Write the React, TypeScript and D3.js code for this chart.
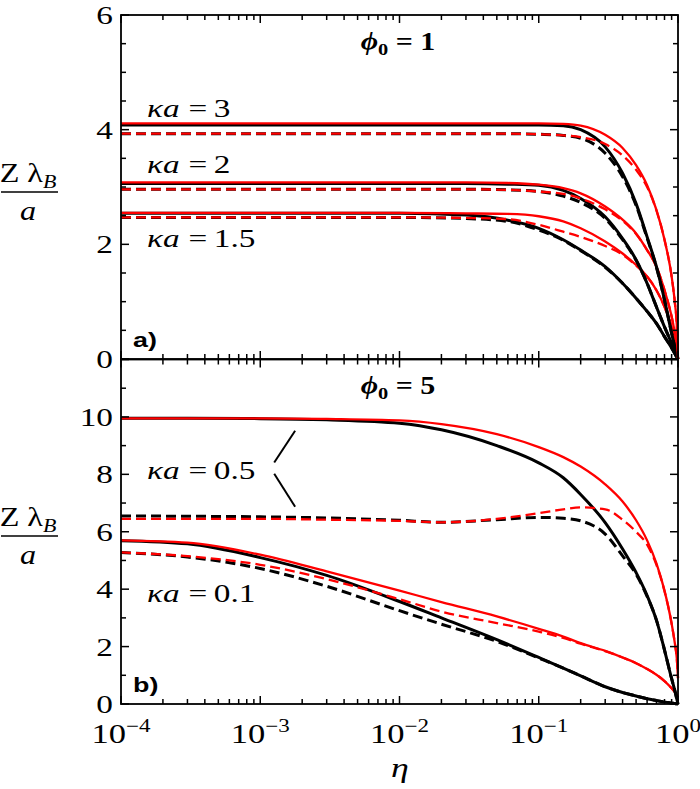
import React, { useEffect, useRef } from 'react';
import * as d3 from 'd3';

// panel a) phi0 = 1 : eta grid and Z lambda_B / a values
const etaA = [1e-4, 1e-3, 1e-2, 0.03, 0.06, 0.1, 0.15, 0.2, 0.3, 0.4, 0.5, 0.6, 0.7, 0.8, 0.9, 0.95, 0.98, 1];
const a3Black = [4.08, 4.08, 4.08, 4.08, 4.08, 4.08, 4.07, 4.0, 3.7, 3.24, 2.71, 2.13, 1.61, 1.03, 0.45, 0.2, 0.07, 0];
const a3BlackDash = [3.93, 3.93, 3.93, 3.93, 3.93, 3.92, 3.9, 3.85, 3.59, 3.18, 2.68, 2.11, 1.6, 1.03, 0.45, 0.2, 0.07, 0];
const a3Red = [4.11, 4.11, 4.11, 4.11, 4.11, 4.11, 4.1, 4.07, 3.91, 3.68, 3.38, 3.03, 2.6, 2.08, 1.44, 0.98, 0.6, 0];
const a3RedDash = [3.93, 3.93, 3.93, 3.93, 3.93, 3.92, 3.9, 3.87, 3.75, 3.55, 3.3, 3.0, 2.59, 2.08, 1.44, 0.98, 0.6, 0];
const a2Black = [3.06, 3.06, 3.06, 3.06, 3.05, 3.03, 2.94, 2.8, 2.48, 2.1, 1.73, 1.32, 0.91, 0.56, 0.27, 0.13, 0.05, 0];
const a2BlackDash = [2.96, 2.96, 2.96, 2.96, 2.95, 2.92, 2.84, 2.73, 2.45, 2.08, 1.72, 1.32, 0.91, 0.56, 0.27, 0.13, 0.05, 0];
const a2Red = [3.08, 3.08, 3.08, 3.08, 3.07, 3.04, 2.98, 2.89, 2.66, 2.43, 2.19, 1.9, 1.61, 1.2, 0.74, 0.45, 0.25, 0];
const a2RedDash = [2.96, 2.96, 2.96, 2.96, 2.95, 2.92, 2.88, 2.8, 2.61, 2.41, 2.18, 1.9, 1.61, 1.2, 0.74, 0.45, 0.25, 0];
const a15Black = [2.54, 2.54, 2.54, 2.51, 2.42, 2.28, 2.08, 1.9, 1.61, 1.32, 1.06, 0.83, 0.62, 0.39, 0.19, 0.09, 0.03, 0];
const a15BlackDash = [2.47, 2.47, 2.47, 2.45, 2.4, 2.25, 2.07, 1.89, 1.6, 1.32, 1.06, 0.83, 0.62, 0.39, 0.19, 0.09, 0.03, 0];
const a15Red = [2.55, 2.55, 2.55, 2.54, 2.53, 2.49, 2.4, 2.28, 2.05, 1.84, 1.64, 1.44, 1.2, 0.91, 0.56, 0.35, 0.18, 0];
const a15RedDash = [2.47, 2.47, 2.47, 2.46, 2.44, 2.34, 2.22, 2.13, 1.97, 1.82, 1.63, 1.44, 1.2, 0.91, 0.56, 0.35, 0.18, 0];

// panel b) phi0 = 5
const etaB = [1e-4, 3e-4, 1e-3, 3e-3, 0.01, 0.02, 0.05, 0.1, 0.15, 0.2, 0.3, 0.4, 0.5, 0.6, 0.7, 0.8, 0.9, 0.95, 0.98, 1];
const b05Black = [9.95, 9.95, 9.94, 9.9, 9.78, 9.55, 9.0, 8.4, 7.88, 7.3, 6.32, 5.4, 4.58, 3.78, 2.92, 1.88, 0.88, 0.46, 0.18, 0];
const b05BlackDash = [6.55, 6.54, 6.52, 6.48, 6.4, 6.33, 6.42, 6.5, 6.47, 6.38, 5.92, 5.16, 4.52, 3.75, 2.92, 1.88, 0.88, 0.46, 0.18, 0];
const b05Red = [9.95, 9.95, 9.95, 9.93, 9.88, 9.75, 9.4, 8.95, 8.6, 8.27, 7.65, 7.05, 6.4, 5.7, 4.9, 3.95, 2.8, 2.1, 1.6, 0.9];
const b05RedDash = [6.45, 6.45, 6.45, 6.42, 6.38, 6.33, 6.45, 6.65, 6.78, 6.85, 6.78, 6.42, 6.0, 5.55, 4.85, 3.93, 2.8, 2.1, 1.6, 0.9];
const b01Black = [5.69, 5.58, 5.1, 4.48, 3.57, 3.0, 2.24, 1.62, 1.25, 0.98, 0.6, 0.4, 0.28, 0.18, 0.12, 0.07, 0.03, 0.015, 0.005, 0];
const b01BlackDash = [5.28, 5.12, 4.72, 4.1, 3.25, 2.78, 2.18, 1.6, 1.25, 0.98, 0.6, 0.4, 0.28, 0.18, 0.12, 0.07, 0.03, 0.015, 0.005, 0];
const b01Red = [5.7, 5.62, 5.2, 4.62, 3.95, 3.55, 3.05, 2.62, 2.35, 2.12, 1.85, 1.62, 1.42, 1.22, 1.02, 0.8, 0.55, 0.42, 0.33, 0.25];
const b01RedDash = [5.28, 5.15, 4.85, 4.35, 3.65, 3.22, 2.82, 2.52, 2.3, 2.1, 1.84, 1.62, 1.42, 1.22, 1.02, 0.8, 0.55, 0.42, 0.33, 0.25];

// tick labels
const yLabelsA = [0, 2, 4, 6];
const yLabelsB = [0, 2, 4, 6, 8, 10];
const xExponents = [-4, -3, -2, -1, 0];

// pointer lines for the kappa a = 0.5 label (eta, value)
const pointerUp: [number, number][] = [[1.78e-3, 9.52], [1.26e-3, 8.41]];
const pointerDown: [number, number][] = [[1.26e-3, 8.02], [1.78e-3, 6.87]];

const RED = '#ff0000';
const SERIF = '"Liberation Serif", "Times New Roman", serif';
const SX = 1.28;

const App: React.FC = () => {
  const chartRef = useRef<SVGSVGElement | null>(null);

  useEffect(() => {
    if (!chartRef.current) return;
    const svg = d3.select(chartRef.current);
    svg.selectAll('*').remove();

    const left = 121;
    const right = 678;
    const x = d3.scaleLog().domain([1e-4, 1]).range([left, right]);
    const yA = d3.scaleLinear().domain([0, 6]).range([359, 15]);
    const yB = d3.scaleLinear().domain([0, 12]).range([704, 359.5]);

    // curves
    const drawCurves = (
      y: d3.ScaleLinear<number, number>,
      eta: number[],
      groups: { vals: number[]; color: string; dashed: boolean }[]
    ) => {
      const line = d3.line<[number, number]>()
        .x((d) => x(d[0]))
        .y((d) => y(d[1]))
        .curve(d3.curveMonotoneX);
      groups.forEach((s) => {
        svg.append('path')
          .datum(eta.map((e, i) => [e, s.vals[i]] as [number, number]))
          .attr('fill', 'none')
          .attr('stroke', s.color)
          .attr('stroke-width', s.color === RED ? 2.3 : 3)
          .attr('stroke-dasharray', s.dashed ? '10,5' : null)
          .attr('d', line);
      });
    };

    const set = (k: number[], kd: number[], r: number[], rd: number[]) => [
      { vals: k, color: '#000', dashed: false },
      { vals: kd, color: '#000', dashed: true },
      { vals: r, color: RED, dashed: false },
      { vals: rd, color: RED, dashed: true },
    ];

    drawCurves(yA, etaA, [
      ...set(a15Black, a15BlackDash, a15Red, a15RedDash),
      ...set(a2Black, a2BlackDash, a2Red, a2RedDash),
      ...set(a3Black, a3BlackDash, a3Red, a3RedDash),
    ]);
    drawCurves(yB, etaB, [
      ...set(b01Black, b01BlackDash, b01Red, b01RedDash),
      ...set(b05Black, b05BlackDash, b05Red, b05RedDash),
    ]);

    // frames and ticks
    const frame = (y: d3.ScaleLinear<number, number>, minorStep: number, majorStep: number) => {
      const g = svg.append('g').attr('stroke', '#000').attr('stroke-width', 1.5);
      const [v0, v1] = y.domain();
      d3.range(v0, v1 + 1e-9, minorStep).forEach((v) => {
        const major = Math.abs(v / majorStep - Math.round(v / majorStep)) < 1e-6;
        const len = major ? 8 : 5;
        g.append('line').attr('x1', left).attr('x2', left + len).attr('y1', y(v)).attr('y2', y(v));
        g.append('line').attr('x1', right).attr('x2', right - len).attr('y1', y(v)).attr('y2', y(v));
      });
      const yTop = y(v1);
      const yBot = y(v0);
      x.ticks().forEach((t) => {
        const lg = Math.log10(t);
        const len = Math.abs(lg - Math.round(lg)) < 1e-6 ? 8 : 5;
        g.append('line').attr('x1', x(t)).attr('x2', x(t)).attr('y1', yTop).attr('y2', yTop + len);
        g.append('line').attr('x1', x(t)).attr('x2', x(t)).attr('y1', yBot).attr('y2', yBot - len);
      });
      g.append('rect')
        .attr('x', left).attr('y', yTop)
        .attr('width', right - left).attr('height', yBot - yTop)
        .attr('fill', 'none').attr('stroke-width', 1.8);
    };
    frame(yA, 0.5, 2);
    frame(yB, 1, 2);

    // y tick labels
    const yLab = (y: d3.ScaleLinear<number, number>, vals: number[]) => {
      vals.forEach((v) => {
        svg.append('text')
          .attr('transform', `translate(113,${y(v) + 9}) scale(${SX},1)`)
          .attr('text-anchor', 'end')
          .attr('font-family', SERIF)
          .attr('font-size', 26)
          .text(String(v));
      });
    };
    yLab(yA, yLabelsA);
    yLab(yB, yLabelsB);

    // x tick labels
    xExponents.forEach((p) => {
      const t = svg.append('text')
        .attr('transform', `translate(${x(Math.pow(10, p))},743) scale(${SX},1)`)
        .attr('text-anchor', 'middle')
        .attr('font-family', SERIF)
        .attr('font-size', 27);
      t.append('tspan').text('10');
      t.append('tspan').attr('font-size', 18).attr('dy', -11).text(p < 0 ? `\u2212${-p}` : `${p}`);
    });

    // axis title
    svg.append('text')
      .attr('transform', `translate(400,777) scale(${SX},1)`)
      .attr('text-anchor', 'middle')
      .attr('font-family', SERIF)
      .attr('font-style', 'italic')
      .attr('font-size', 28)
      .text('η');

    // y label fractions
    const fraction = (cy: number) => {
      svg.append('line')
        .attr('x1', 1).attr('x2', 58).attr('y1', cy).attr('y2', cy)
        .attr('stroke', '#000').attr('stroke-width', 1.5);
      const t = svg.append('text')
        .attr('transform', `translate(28,${cy - 10}) scale(1.15,1)`)
        .attr('text-anchor', 'middle')
        .attr('font-family', SERIF)
        .attr('font-size', 28);
      t.append('tspan').text('Z λ');
      t.append('tspan').attr('font-style', 'italic').attr('font-size', 19).attr('dy', 6).text('B');
      svg.append('text')
        .attr('transform', `translate(28,${cy + 28}) scale(1.15,1)`)
        .attr('text-anchor', 'middle')
        .attr('font-family', SERIF)
        .attr('font-style', 'italic')
        .attr('font-size', 28)
        .text('a');
    };
    fraction(192);
    fraction(536);

    // panel titles
    const title = (yBase: number, val: string) => {
      const t = svg.append('text')
        .attr('transform', `translate(398,${yBase}) scale(1.2,1)`)
        .attr('text-anchor', 'middle')
        .attr('font-family', SERIF)
        .attr('font-weight', 'bold')
        .attr('font-size', 25);
      t.append('tspan').attr('font-style', 'italic').text('ϕ');
      t.append('tspan').attr('font-size', 17).attr('dy', 5).text('0');
      t.append('tspan').attr('dy', -5).text(` = ${val}`);
    };
    title(50, '1');
    title(394, '5');

    // panel letters
    const letter = (yBase: number, s: string) => {
      svg.append('text')
        .attr('transform', `translate(133,${yBase}) scale(${SX},1)`)
        .attr('font-family', '"Liberation Sans", Arial, sans-serif')
        .attr('font-weight', 'bold')
        .attr('font-size', 21)
        .text(s);
    };
    letter(347, 'a)');
    letter(692, 'b)');

    // kappa a labels
    const kappa = (yBase: number, val: string) => {
      const t = svg.append('text')
        .attr('transform', `translate(147,${yBase}) scale(${SX},1)`)
        .attr('font-family', SERIF)
        .attr('font-size', 26);
      t.append('tspan').attr('font-style', 'italic').text('κa');
      t.append('tspan').attr('dx', 7).text('=');
      t.append('tspan').attr('dx', 5).text(val);
    };
    kappa(116.5, '3');
    kappa(173, '2');
    kappa(246.5, '1.5');
    kappa(479, '0.5');
    kappa(601.5, '0.1');

    // pointer lines
    [pointerUp, pointerDown].forEach((p) => {
      svg.append('line')
        .attr('x1', x(p[0][0])).attr('y1', yB(p[0][1]))
        .attr('x2', x(p[1][0])).attr('y2', yB(p[1][1]))
        .attr('stroke', '#000').attr('stroke-width', 2);
    });
  }, []);

  return (
    <svg
      ref={chartRef}
      width={700}
      height={789}
      style={{ position: 'absolute', left: 0, top: 0, background: '#fff' }}
    />
  );
};

export default App;
